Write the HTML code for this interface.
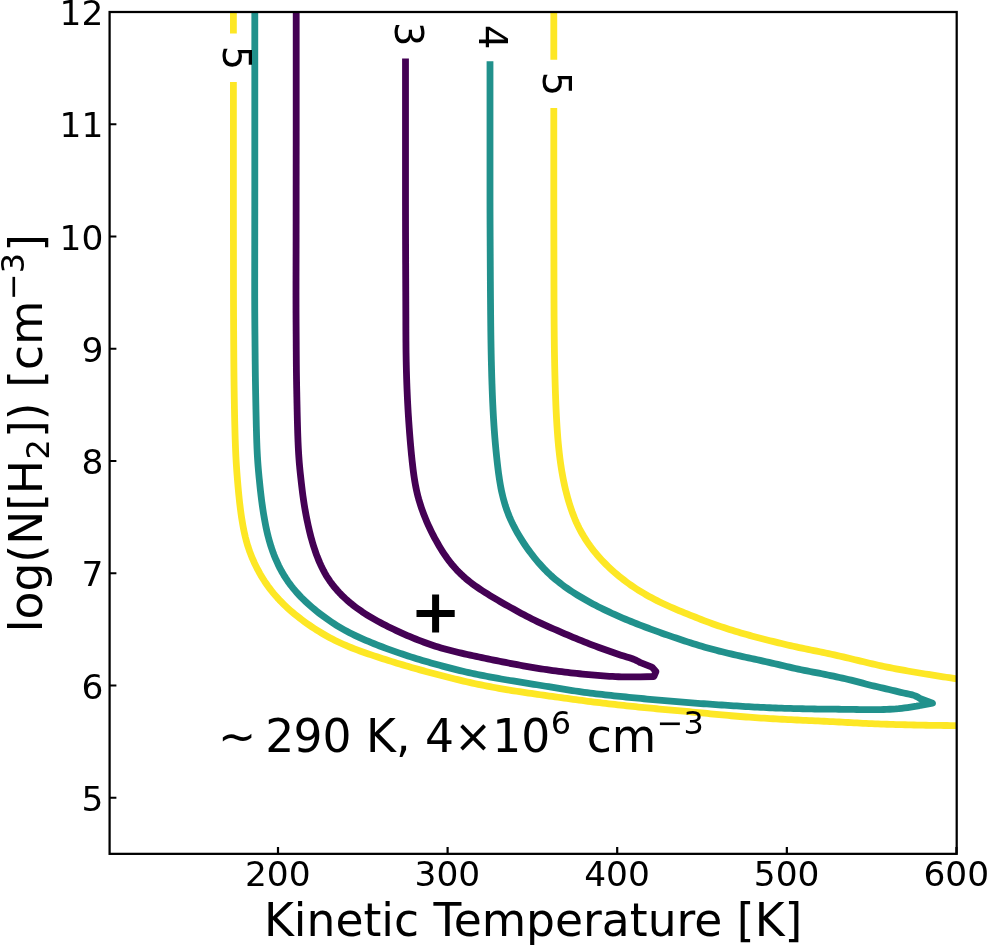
<!DOCTYPE html>
<html lang="en"><head><meta charset="utf-8"><title>Contour plot</title>
<style>html,body{margin:0;padding:0;background:#fff}svg{display:block}text{font-family:"DejaVu Sans","Liberation Sans",sans-serif;fill:#000}</style></head>
<body>
<svg width="987" height="945" viewBox="0 0 987 945">
<rect width="987" height="945" fill="#fff"/>
<defs><clipPath id="ax"><rect x="109.60" y="12.00" width="847.10" height="841.85"/></clipPath></defs>
<g clip-path="url(#ax)" fill="none" stroke-width="6.80" stroke-linejoin="round" stroke-linecap="butt">
<path stroke="#440154" d="M296.20,10.00 L296.20,13.00 L296.20,16.00 L296.20,19.00 L296.20,22.00 L296.20,25.00 L296.20,28.00 L296.20,31.00 L296.20,34.00 L296.20,37.01 L296.20,40.01 L296.20,43.01 L296.20,46.01 L296.20,49.01 L296.20,52.01 L296.20,55.01 L296.20,58.01 L296.20,61.01 L296.20,64.01 L296.20,67.01 L296.20,70.01 L296.20,73.01 L296.20,76.01 L296.20,79.01 L296.20,82.01 L296.20,85.01 L296.20,88.01 L296.20,91.02 L296.20,94.02 L296.20,97.02 L296.20,100.02 L296.20,103.02 L296.20,106.02 L296.20,109.02 L296.20,112.02 L296.20,115.02 L296.20,118.02 L296.20,121.02 L296.20,124.02 L296.20,127.02 L296.20,130.02 L296.19,133.02 L296.19,136.02 L296.19,139.02 L296.19,142.02 L296.19,145.03 L296.18,148.03 L296.18,151.03 L296.18,154.03 L296.17,157.03 L296.17,160.03 L296.17,163.03 L296.16,166.03 L296.16,169.03 L296.16,172.03 L296.16,175.03 L296.15,178.03 L296.15,181.03 L296.15,184.03 L296.14,187.03 L296.14,190.03 L296.14,193.03 L296.14,196.04 L296.14,199.04 L296.13,202.04 L296.13,205.04 L296.13,208.04 L296.13,211.04 L296.12,214.04 L296.12,217.04 L296.12,220.04 L296.12,223.04 L296.11,226.04 L296.11,229.04 L296.11,232.04 L296.10,235.04 L296.10,238.04 L296.10,241.04 L296.09,244.04 L296.09,247.04 L296.08,250.05 L296.08,253.05 L296.07,256.05 L296.06,259.05 L296.06,262.05 L296.05,265.05 L296.04,268.05 L296.04,271.05 L296.03,274.05 L296.02,277.05 L296.02,280.05 L296.01,283.05 L296.01,286.05 L296.01,289.05 L296.00,292.05 L296.00,295.05 L296.01,298.05 L296.01,301.05 L296.02,304.06 L296.02,307.06 L296.03,310.06 L296.04,313.06 L296.06,316.06 L296.07,319.06 L296.08,322.06 L296.10,325.06 L296.12,328.06 L296.13,331.06 L296.15,334.06 L296.17,337.06 L296.19,340.06 L296.21,343.06 L296.22,346.06 L296.24,349.06 L296.26,352.06 L296.28,355.06 L296.30,358.07 L296.32,361.07 L296.34,364.07 L296.37,367.07 L296.40,370.07 L296.44,373.07 L296.48,376.07 L296.52,379.07 L296.57,382.07 L296.62,385.07 L296.68,388.07 L296.74,391.07 L296.80,394.07 L296.86,397.07 L296.92,400.07 L296.98,403.07 L297.05,406.07 L297.11,409.07 L297.17,412.07 L297.24,415.07 L297.31,418.07 L297.38,421.07 L297.46,424.07 L297.54,427.07 L297.63,430.07 L297.72,433.07 L297.82,436.06 L297.93,439.06 L298.05,442.06 L298.18,445.06 L298.32,448.06 L298.48,451.05 L298.65,454.05 L298.85,457.04 L299.07,460.03 L299.30,463.02 L299.57,466.01 L299.85,469.00 L300.15,471.98 L300.46,474.97 L300.79,477.95 L301.12,480.93 L301.46,483.92 L301.81,486.90 L302.17,489.88 L302.54,492.86 L302.93,495.84 L303.35,498.81 L303.78,501.78 L304.24,504.74 L304.73,507.70 L305.24,510.66 L305.78,513.61 L306.34,516.55 L306.92,519.50 L307.53,522.43 L308.16,525.37 L308.82,528.29 L309.50,531.21 L310.22,534.13 L310.97,537.04 L311.77,539.94 L312.60,542.83 L313.47,545.72 L314.39,548.58 L315.35,551.44 L316.36,554.27 L317.42,557.09 L318.54,559.88 L319.70,562.65 L320.93,565.38 L322.22,568.08 L323.57,570.74 L325.00,573.36 L326.51,575.94 L328.10,578.47 L329.76,580.95 L331.51,583.37 L333.33,585.75 L335.22,588.07 L337.18,590.34 L339.21,592.55 L341.29,594.71 L343.43,596.82 L345.63,598.87 L347.87,600.87 L350.17,602.81 L352.50,604.71 L354.88,606.56 L357.29,608.36 L359.73,610.11 L362.20,611.82 L364.70,613.47 L367.23,615.09 L369.78,616.66 L372.37,618.18 L374.98,619.67 L377.60,621.13 L380.24,622.55 L382.90,623.95 L385.57,625.32 L388.26,626.67 L390.96,627.99 L393.67,629.29 L396.38,630.58 L399.11,631.84 L401.84,633.09 L404.58,634.31 L407.33,635.52 L410.09,636.70 L412.86,637.86 L415.64,639.00 L418.42,640.12 L421.22,641.20 L424.03,642.26 L426.84,643.29 L429.67,644.28 L432.51,645.24 L435.36,646.17 L438.22,647.06 L441.09,647.92 L443.98,648.75 L446.87,649.54 L449.77,650.31 L452.68,651.05 L455.59,651.77 L458.51,652.48 L461.43,653.16 L464.36,653.83 L467.29,654.48 L470.22,655.13 L473.15,655.76 L476.09,656.39 L479.03,657.01 L481.96,657.63 L484.90,658.24 L487.84,658.86 L490.78,659.47 L493.72,660.07 L496.66,660.67 L499.60,661.27 L502.54,661.86 L505.48,662.45 L508.43,663.02 L511.37,663.59 L514.32,664.15 L517.27,664.71 L520.22,665.25 L523.17,665.79 L526.13,666.32 L529.08,666.84 L532.04,667.34 L535.00,667.84 L537.96,668.32 L540.92,668.79 L543.89,669.24 L546.86,669.68 L549.83,670.10 L552.80,670.51 L555.77,670.91 L558.75,671.30 L561.73,671.68 L564.70,672.05 L567.68,672.41 L570.66,672.76 L573.64,673.10 L576.63,673.43 L579.61,673.75 L582.60,674.07 L585.58,674.37 L588.57,674.66 L591.56,674.93 L594.55,675.19 L597.54,675.44 L600.53,675.68 L603.52,675.90 L606.51,676.11 L609.51,676.29 L612.50,676.47 L615.50,676.63 L618.50,676.76 L621.50,676.85 L624.50,676.90 L627.50,676.92 L630.50,676.94 L633.50,676.94 L636.50,676.91 L639.50,676.85 L640.50,676.82 L653.90,676.50 L655.90,671.60 L651.90,667.10 L640.50,662.70 L637.88,661.18 L635.18,659.86 L632.41,658.75 L629.58,657.81 L626.71,656.94 L623.83,656.08 L620.96,655.18 L618.11,654.23 L615.28,653.23 L612.45,652.23 L609.62,651.24 L606.79,650.24 L603.95,649.23 L601.13,648.21 L598.30,647.19 L595.47,646.17 L592.66,645.13 L589.85,644.05 L587.06,642.94 L584.27,641.82 L581.48,640.69 L578.70,639.56 L575.91,638.43 L573.13,637.30 L570.36,636.14 L567.59,634.97 L564.83,633.80 L562.07,632.61 L559.31,631.42 L556.55,630.22 L553.81,629.01 L551.06,627.78 L548.32,626.55 L545.58,625.32 L542.85,624.08 L540.11,622.83 L537.39,621.56 L534.69,620.26 L532.00,618.93 L529.32,617.57 L526.66,616.19 L524.01,614.79 L521.36,613.38 L518.72,611.95 L516.09,610.51 L513.47,609.06 L510.85,607.60 L508.23,606.13 L505.61,604.66 L503.00,603.18 L500.39,601.69 L497.79,600.18 L495.20,598.65 L492.62,597.11 L490.05,595.55 L487.48,593.97 L484.93,592.38 L482.41,590.76 L479.91,589.10 L477.44,587.40 L474.99,585.67 L472.58,583.90 L470.19,582.09 L467.84,580.23 L465.53,578.32 L463.28,576.33 L461.08,574.29 L458.94,572.18 L456.85,570.02 L454.82,567.81 L452.85,565.55 L450.95,563.24 L449.10,560.88 L447.31,558.48 L445.58,556.03 L443.90,553.55 L442.26,551.03 L440.67,548.49 L439.12,545.91 L437.61,543.32 L436.13,540.70 L434.68,538.06 L433.28,535.39 L431.91,532.71 L430.58,530.01 L429.29,527.28 L428.04,524.54 L426.83,521.78 L425.67,519.01 L424.55,516.22 L423.46,513.42 L422.42,510.61 L421.42,507.78 L420.47,504.94 L419.58,502.08 L418.73,499.21 L417.95,496.32 L417.22,493.42 L416.55,490.49 L415.94,487.56 L415.38,484.60 L414.86,481.64 L414.39,478.67 L413.94,475.70 L413.53,472.72 L413.14,469.73 L412.78,466.74 L412.44,463.75 L412.11,460.76 L411.80,457.77 L411.49,454.78 L411.20,451.78 L410.92,448.79 L410.65,445.80 L410.39,442.81 L410.13,439.81 L409.89,436.82 L409.65,433.82 L409.42,430.83 L409.20,427.83 L408.99,424.83 L408.78,421.84 L408.58,418.84 L408.39,415.84 L408.20,412.84 L408.03,409.84 L407.86,406.85 L407.70,403.85 L407.55,400.84 L407.40,397.84 L407.27,394.84 L407.14,391.84 L407.01,388.84 L406.89,385.84 L406.78,382.84 L406.68,379.83 L406.58,376.83 L406.50,373.83 L406.41,370.82 L406.34,367.82 L406.27,364.82 L406.21,361.81 L406.15,358.81 L406.10,355.81 L406.05,352.80 L406.01,349.80 L405.98,346.79 L405.96,343.79 L405.93,340.79 L405.92,337.78 L405.90,334.78 L405.89,331.77 L405.88,328.77 L405.87,325.77 L405.86,322.76 L405.86,319.76 L405.85,316.75 L405.84,313.75 L405.83,310.75 L405.82,307.74 L405.81,304.74 L405.80,301.73 L405.79,298.73 L405.78,295.72 L405.77,292.72 L405.75,289.72 L405.74,286.71 L405.73,283.71 L405.72,280.70 L405.70,277.70 L405.69,274.70 L405.68,271.69 L405.67,268.69 L405.66,265.68 L405.64,262.68 L405.63,259.68 L405.62,256.67 L405.61,253.67 L405.60,250.66 L405.59,247.66 L405.58,244.66 L405.57,241.65 L405.57,238.65 L405.56,235.64 L405.55,232.64 L405.54,229.63 L405.54,226.63 L405.53,223.63 L405.53,220.62 L405.52,217.62 L405.52,214.61 L405.51,211.61 L405.51,208.61 L405.51,205.60 L405.50,202.60 L405.50,199.59 L405.50,196.59 L405.50,193.59 L405.50,190.58 L405.50,187.58 L405.50,184.57 L405.50,181.57 L405.50,178.56 L405.50,175.56 L405.50,172.56 L405.50,169.55 L405.50,166.55 L405.50,163.54 L405.50,160.54 L405.50,157.54 L405.50,154.53 L405.50,151.53 L405.50,148.52 L405.50,145.52 L405.50,142.52 L405.50,139.51 L405.50,136.51 L405.50,133.50 L405.50,130.50 L405.50,127.49 L405.50,124.49 L405.50,121.49 L405.50,118.48 L405.50,115.48 L405.50,112.47 L405.50,109.47 L405.50,106.47 L405.50,103.46 L405.50,100.46 L405.50,97.45 L405.50,94.45 L405.50,91.45 L405.50,88.44 L405.50,85.44 L405.50,82.43 L405.50,79.43 L405.50,76.42 L405.50,73.42 L405.50,70.42 L405.50,67.41 L405.50,64.41 L405.50,61.40 L405.50,58.40"/>
<path stroke="#21918c" d="M254.80,10.00 L254.80,13.00 L254.80,16.00 L254.80,19.01 L254.80,22.01 L254.80,25.01 L254.80,28.01 L254.80,31.01 L254.80,34.02 L254.80,37.02 L254.80,40.02 L254.80,43.02 L254.80,46.02 L254.80,49.03 L254.80,52.03 L254.80,55.03 L254.80,58.03 L254.80,61.04 L254.80,64.04 L254.80,67.04 L254.80,70.04 L254.80,73.04 L254.80,76.05 L254.80,79.05 L254.80,82.05 L254.80,85.05 L254.80,88.05 L254.80,91.06 L254.80,94.06 L254.80,97.06 L254.80,100.06 L254.80,103.06 L254.80,106.07 L254.80,109.07 L254.80,112.07 L254.80,115.07 L254.80,118.07 L254.80,121.08 L254.80,124.08 L254.80,127.08 L254.80,130.08 L254.80,133.09 L254.80,136.09 L254.80,139.09 L254.80,142.09 L254.80,145.09 L254.80,148.10 L254.80,151.10 L254.80,154.10 L254.80,157.10 L254.80,160.10 L254.80,163.11 L254.80,166.11 L254.80,169.11 L254.80,172.11 L254.80,175.11 L254.80,178.12 L254.80,181.12 L254.80,184.12 L254.80,187.12 L254.80,190.12 L254.79,193.13 L254.79,196.13 L254.79,199.13 L254.79,202.13 L254.79,205.14 L254.78,208.14 L254.78,211.14 L254.78,214.14 L254.77,217.14 L254.77,220.15 L254.77,223.15 L254.76,226.15 L254.76,229.15 L254.76,232.15 L254.76,235.16 L254.75,238.16 L254.75,241.16 L254.75,244.16 L254.74,247.16 L254.74,250.17 L254.74,253.17 L254.73,256.17 L254.73,259.17 L254.73,262.18 L254.72,265.18 L254.72,268.18 L254.71,271.18 L254.71,274.18 L254.71,277.19 L254.70,280.19 L254.70,283.19 L254.70,286.19 L254.70,289.19 L254.70,292.20 L254.70,295.20 L254.71,298.20 L254.72,301.20 L254.73,304.20 L254.74,307.21 L254.75,310.21 L254.77,313.21 L254.79,316.21 L254.81,319.21 L254.83,322.22 L254.85,325.22 L254.88,328.22 L254.90,331.22 L254.93,334.22 L254.96,337.23 L254.99,340.23 L255.01,343.23 L255.04,346.23 L255.07,349.23 L255.10,352.24 L255.13,355.24 L255.15,358.24 L255.18,361.24 L255.22,364.24 L255.25,367.25 L255.28,370.25 L255.32,373.25 L255.36,376.25 L255.41,379.25 L255.45,382.25 L255.50,385.26 L255.55,388.26 L255.61,391.26 L255.66,394.26 L255.72,397.26 L255.77,400.26 L255.83,403.27 L255.89,406.27 L255.95,409.27 L256.01,412.27 L256.08,415.27 L256.14,418.27 L256.21,421.28 L256.27,424.28 L256.34,427.28 L256.42,430.28 L256.50,433.28 L256.58,436.28 L256.68,439.28 L256.78,442.28 L256.89,445.28 L257.01,448.28 L257.15,451.28 L257.30,454.28 L257.47,457.28 L257.66,460.27 L257.87,463.27 L258.10,466.26 L258.35,469.25 L258.61,472.24 L258.88,475.23 L259.17,478.22 L259.47,481.21 L259.77,484.19 L260.08,487.18 L260.40,490.17 L260.74,493.16 L261.09,496.14 L261.45,499.12 L261.84,502.10 L262.24,505.07 L262.67,508.04 L263.12,511.01 L263.59,513.98 L264.09,516.94 L264.62,519.89 L265.17,522.85 L265.74,525.80 L266.35,528.74 L267.00,531.67 L267.69,534.60 L268.42,537.51 L269.20,540.41 L270.04,543.30 L270.92,546.17 L271.87,549.02 L272.87,551.86 L273.92,554.67 L275.04,557.46 L276.20,560.23 L277.43,562.97 L278.71,565.68 L280.05,568.36 L281.46,571.00 L282.94,573.61 L284.48,576.17 L286.10,578.69 L287.78,581.17 L289.53,583.61 L291.35,586.00 L293.22,588.34 L295.15,590.64 L297.13,592.90 L299.16,595.11 L301.24,597.29 L303.36,599.41 L305.52,601.50 L307.71,603.55 L309.95,605.56 L312.22,607.53 L314.52,609.47 L316.86,611.36 L319.22,613.23 L321.61,615.05 L324.03,616.84 L326.47,618.60 L328.94,620.32 L331.42,622.01 L333.93,623.66 L336.47,625.27 L339.03,626.84 L341.61,628.36 L344.22,629.84 L346.85,631.28 L349.51,632.67 L352.18,634.02 L354.87,635.34 L357.58,636.63 L360.31,637.89 L363.05,639.12 L365.80,640.32 L368.57,641.49 L371.34,642.64 L374.12,643.77 L376.92,644.88 L379.72,645.97 L382.53,647.03 L385.34,648.09 L388.16,649.12 L390.99,650.14 L393.81,651.14 L396.65,652.13 L399.49,653.10 L402.33,654.06 L405.18,655.01 L408.03,655.94 L410.89,656.87 L413.75,657.77 L416.61,658.67 L419.49,659.54 L422.36,660.40 L425.24,661.25 L428.13,662.08 L431.02,662.90 L433.91,663.72 L436.80,664.52 L439.70,665.31 L442.60,666.10 L445.50,666.88 L448.40,667.64 L451.30,668.40 L454.21,669.14 L457.12,669.87 L460.04,670.58 L462.96,671.28 L465.88,671.96 L468.81,672.62 L471.74,673.27 L474.68,673.89 L477.62,674.51 L480.56,675.10 L483.50,675.69 L486.45,676.26 L489.40,676.83 L492.35,677.38 L495.30,677.93 L498.26,678.46 L501.21,678.98 L504.17,679.49 L507.13,679.99 L510.09,680.48 L513.05,680.96 L516.02,681.43 L518.98,681.91 L521.95,682.37 L524.91,682.85 L527.88,683.32 L530.84,683.80 L533.81,684.28 L536.77,684.76 L539.73,685.25 L542.69,685.74 L545.66,686.23 L548.62,686.71 L551.58,687.20 L554.54,687.69 L557.50,688.18 L560.47,688.67 L563.43,689.15 L566.39,689.63 L569.36,690.10 L572.32,690.56 L575.29,691.01 L578.26,691.44 L581.23,691.87 L584.21,692.28 L587.18,692.68 L590.16,693.06 L593.14,693.44 L596.12,693.80 L599.10,694.15 L602.08,694.49 L605.06,694.82 L608.05,695.15 L611.03,695.46 L614.02,695.78 L617.01,696.09 L619.99,696.39 L622.98,696.70 L625.97,697.00 L628.96,697.29 L631.94,697.59 L634.93,697.88 L637.92,698.17 L640.91,698.46 L643.90,698.74 L646.89,699.03 L649.87,699.31 L652.86,699.58 L655.85,699.86 L658.84,700.13 L661.83,700.40 L664.82,700.67 L667.81,700.93 L670.81,701.19 L673.80,701.44 L676.79,701.69 L679.78,701.93 L682.77,702.17 L685.77,702.41 L688.76,702.64 L691.75,702.87 L694.75,703.09 L697.74,703.31 L700.73,703.53 L703.73,703.75 L706.72,703.96 L709.72,704.18 L712.71,704.39 L715.71,704.60 L718.70,704.80 L721.70,705.01 L724.69,705.21 L727.69,705.41 L730.68,705.60 L733.68,705.80 L736.68,705.98 L739.67,706.17 L742.67,706.35 L745.67,706.53 L748.66,706.70 L751.66,706.87 L754.66,707.03 L757.66,707.18 L760.65,707.33 L763.65,707.47 L766.65,707.61 L769.65,707.74 L772.65,707.86 L775.65,707.98 L778.65,708.09 L781.65,708.19 L784.65,708.29 L787.65,708.38 L790.65,708.47 L793.65,708.55 L796.66,708.63 L799.66,708.70 L802.66,708.77 L805.66,708.83 L808.66,708.88 L811.66,708.94 L814.66,708.98 L817.67,709.03 L820.67,709.07 L823.67,709.10 L826.67,709.13 L829.67,709.16 L832.68,709.19 L835.68,709.22 L838.68,709.25 L841.68,709.29 L844.68,709.33 L847.69,709.37 L850.69,709.42 L853.69,709.46 L856.69,709.51 L859.70,709.55 L862.70,709.60 L865.71,709.63 L868.71,709.65 L871.71,709.65 L874.71,709.62 L877.71,709.59 L880.71,709.55 L883.71,709.48 L886.71,709.38 L889.70,709.24 L892.71,709.13 L895.70,708.93 L898.68,708.66 L901.66,708.31 L904.64,707.92 L907.62,707.53 L910.59,707.13 L913.57,706.67 L916.54,706.15 L919.50,705.55 L920.49,705.32 L932.50,703.20 L920.50,698.80 L917.90,697.17 L915.20,695.85 L912.41,694.90 L909.53,694.20 L906.61,693.57 L903.66,692.96 L900.72,692.32 L897.80,691.64 L894.90,690.92 L891.99,690.21 L889.06,689.52 L886.14,688.84 L883.21,688.16 L880.28,687.48 L877.35,686.80 L874.41,686.14 L871.49,685.43 L868.57,684.69 L865.67,683.92 L862.77,683.15 L859.87,682.38 L856.97,681.62 L854.06,680.88 L851.15,680.16 L848.23,679.46 L845.31,678.77 L842.39,678.11 L839.46,677.45 L836.53,676.81 L833.60,676.18 L830.67,675.56 L827.73,674.96 L824.79,674.36 L821.85,673.78 L818.90,673.21 L815.96,672.64 L813.01,672.07 L810.06,671.50 L807.12,670.92 L804.17,670.33 L801.23,669.72 L798.30,669.10 L795.36,668.46 L792.43,667.81 L789.50,667.14 L786.58,666.47 L783.65,665.79 L780.73,665.11 L777.80,664.43 L774.88,663.76 L771.95,663.08 L769.03,662.40 L766.10,661.73 L763.17,661.07 L760.24,660.41 L757.31,659.76 L754.38,659.12 L751.44,658.49 L748.50,657.85 L745.57,657.22 L742.64,656.58 L739.70,655.94 L736.77,655.28 L733.85,654.61 L730.92,653.93 L728.00,653.24 L725.09,652.54 L722.17,651.82 L719.26,651.08 L716.36,650.33 L713.46,649.56 L710.56,648.78 L707.67,647.98 L704.78,647.16 L701.90,646.33 L699.02,645.47 L696.15,644.60 L693.28,643.71 L690.42,642.80 L687.56,641.88 L684.70,640.94 L681.85,639.99 L679.01,639.04 L676.16,638.08 L673.32,637.11 L670.48,636.14 L667.64,635.16 L664.80,634.17 L661.97,633.18 L659.14,632.17 L656.32,631.15 L653.50,630.12 L650.68,629.09 L647.86,628.04 L645.06,626.98 L642.25,625.90 L639.45,624.82 L636.66,623.72 L633.87,622.61 L631.08,621.49 L628.30,620.36 L625.51,619.23 L622.74,618.08 L619.97,616.90 L617.22,615.70 L614.48,614.48 L611.75,613.22 L609.04,611.95 L606.33,610.66 L603.63,609.35 L600.93,608.02 L598.25,606.67 L595.58,605.30 L592.92,603.90 L590.28,602.48 L587.65,601.03 L585.03,599.56 L582.43,598.06 L579.84,596.53 L577.27,594.98 L574.73,593.38 L572.20,591.76 L569.70,590.10 L567.23,588.40 L564.78,586.66 L562.36,584.88 L559.98,583.06 L557.63,581.20 L555.31,579.30 L553.03,577.36 L550.80,575.37 L548.61,573.32 L546.47,571.22 L544.38,569.07 L542.32,566.88 L540.30,564.66 L538.32,562.40 L536.37,560.11 L534.47,557.79 L532.60,555.44 L530.76,553.05 L528.97,550.64 L527.22,548.20 L525.50,545.72 L523.82,543.23 L522.18,540.70 L520.58,538.16 L519.01,535.59 L517.49,532.99 L516.01,530.37 L514.59,527.73 L513.22,525.06 L511.91,522.36 L510.65,519.64 L509.46,516.89 L508.34,514.12 L507.28,511.32 L506.28,508.50 L505.35,505.65 L504.49,502.78 L503.68,499.90 L502.92,497.00 L502.22,494.08 L501.57,491.15 L500.97,488.21 L500.42,485.25 L499.91,482.29 L499.43,479.32 L498.99,476.35 L498.57,473.37 L498.19,470.39 L497.82,467.40 L497.47,464.41 L497.13,461.43 L496.81,458.44 L496.49,455.44 L496.19,452.45 L495.90,449.46 L495.62,446.47 L495.35,443.48 L495.09,440.49 L494.84,437.50 L494.61,434.51 L494.38,431.51 L494.17,428.52 L493.96,425.52 L493.77,422.53 L493.58,419.53 L493.40,416.53 L493.24,413.54 L493.08,410.54 L492.93,407.54 L492.79,404.54 L492.65,401.54 L492.53,398.54 L492.41,395.54 L492.29,392.54 L492.18,389.54 L492.08,386.54 L491.97,383.54 L491.88,380.54 L491.78,377.54 L491.69,374.54 L491.61,371.53 L491.53,368.53 L491.45,365.53 L491.38,362.53 L491.30,359.53 L491.24,356.53 L491.17,353.53 L491.12,350.52 L491.06,347.52 L491.01,344.52 L490.96,341.52 L490.91,338.52 L490.87,335.51 L490.83,332.51 L490.79,329.51 L490.76,326.51 L490.72,323.51 L490.69,320.50 L490.66,317.50 L490.63,314.50 L490.60,311.50 L490.57,308.49 L490.55,305.49 L490.52,302.49 L490.50,299.49 L490.47,296.48 L490.45,293.48 L490.43,290.48 L490.41,287.48 L490.39,284.48 L490.37,281.47 L490.35,278.47 L490.33,275.47 L490.32,272.47 L490.30,269.46 L490.28,266.46 L490.27,263.46 L490.25,260.46 L490.23,257.45 L490.22,254.45 L490.20,251.45 L490.19,248.45 L490.17,245.44 L490.16,242.44 L490.14,239.44 L490.12,236.44 L490.11,233.44 L490.10,230.43 L490.08,227.43 L490.07,224.43 L490.06,221.43 L490.05,218.42 L490.04,215.42 L490.03,212.42 L490.02,209.42 L490.01,206.41 L490.01,203.41 L490.00,200.41 L490.00,197.41 L490.00,194.41 L490.00,191.40 L490.00,188.40 L490.00,185.40 L490.00,182.40 L490.00,179.39 L490.00,176.39 L490.00,173.39 L490.00,170.39 L490.00,167.38 L490.00,164.38 L490.00,161.38 L490.00,158.38 L490.00,155.37 L490.00,152.37 L490.00,149.37 L490.00,146.37 L490.00,143.36 L490.00,140.36 L490.00,137.36 L490.00,134.36 L490.00,131.36 L490.00,128.35 L490.00,125.35 L490.00,122.35 L490.00,119.35 L490.00,116.34 L490.00,113.34 L490.00,110.34 L490.00,107.34 L490.00,104.33 L490.00,101.33 L490.00,98.33 L490.00,95.33 L490.00,92.32 L490.00,89.32 L490.00,86.32 L490.00,83.32 L490.00,80.32 L490.00,77.31 L490.00,74.31 L490.00,71.31 L490.00,68.31 L490.00,65.30 L490.00,62.30 L490.00,61.30"/>
<path stroke="#fde725" d="M233.40,10.00 L233.40,33.40"/>
<path stroke="#fde725" d="M233.40,82.10 L233.40,85.10 L233.40,88.10 L233.40,91.10 L233.40,94.10 L233.40,97.10 L233.40,100.10 L233.40,103.10 L233.40,106.10 L233.40,109.10 L233.40,112.10 L233.40,115.10 L233.40,118.11 L233.40,121.11 L233.40,124.11 L233.40,127.11 L233.40,130.11 L233.40,133.11 L233.40,136.11 L233.40,139.11 L233.40,142.11 L233.40,145.11 L233.40,148.11 L233.40,151.11 L233.40,154.11 L233.40,157.11 L233.40,160.11 L233.40,163.11 L233.40,166.11 L233.40,169.11 L233.40,172.11 L233.40,175.11 L233.40,178.11 L233.40,181.11 L233.40,184.11 L233.40,187.12 L233.40,190.12 L233.40,193.12 L233.40,196.12 L233.40,199.12 L233.40,202.12 L233.40,205.12 L233.40,208.12 L233.41,211.12 L233.41,214.12 L233.41,217.12 L233.41,220.12 L233.42,223.12 L233.42,226.12 L233.42,229.12 L233.43,232.12 L233.43,235.12 L233.43,238.12 L233.44,241.12 L233.44,244.12 L233.44,247.12 L233.45,250.12 L233.45,253.12 L233.45,256.12 L233.46,259.13 L233.46,262.13 L233.46,265.13 L233.46,268.13 L233.47,271.13 L233.47,274.13 L233.47,277.13 L233.47,280.13 L233.48,283.13 L233.48,286.13 L233.48,289.13 L233.49,292.13 L233.49,295.13 L233.50,298.13 L233.51,301.13 L233.52,304.13 L233.53,307.13 L233.54,310.13 L233.55,313.13 L233.56,316.13 L233.58,319.13 L233.59,322.13 L233.61,325.13 L233.62,328.13 L233.64,331.14 L233.66,334.14 L233.68,337.14 L233.69,340.14 L233.71,343.14 L233.73,346.14 L233.75,349.14 L233.77,352.14 L233.79,355.14 L233.81,358.14 L233.83,361.14 L233.86,364.14 L233.88,367.14 L233.91,370.14 L233.94,373.14 L233.97,376.14 L234.00,379.14 L234.04,382.14 L234.08,385.14 L234.12,388.14 L234.16,391.14 L234.21,394.14 L234.25,397.14 L234.30,400.14 L234.35,403.14 L234.40,406.14 L234.46,409.14 L234.52,412.14 L234.57,415.14 L234.64,418.14 L234.70,421.14 L234.77,424.14 L234.85,427.14 L234.93,430.14 L235.01,433.14 L235.10,436.14 L235.19,439.14 L235.30,442.14 L235.40,445.14 L235.52,448.13 L235.64,451.13 L235.77,454.13 L235.92,457.13 L236.08,460.12 L236.25,463.12 L236.44,466.11 L236.64,469.10 L236.85,472.10 L237.08,475.09 L237.31,478.08 L237.56,481.07 L237.81,484.06 L238.07,487.05 L238.34,490.04 L238.62,493.03 L238.92,496.02 L239.23,499.00 L239.55,501.99 L239.90,504.97 L240.26,507.95 L240.65,510.93 L241.05,513.91 L241.49,516.88 L241.95,519.85 L242.44,522.81 L242.96,525.77 L243.51,528.72 L244.11,531.66 L244.76,534.59 L245.45,537.51 L246.21,540.41 L247.02,543.30 L247.89,546.17 L248.83,549.02 L249.82,551.84 L250.88,554.64 L252.00,557.42 L253.18,560.18 L254.41,562.91 L255.71,565.62 L257.05,568.30 L258.46,570.96 L259.91,573.59 L261.42,576.18 L262.99,578.75 L264.61,581.28 L266.29,583.77 L268.02,586.22 L269.81,588.63 L271.65,591.00 L273.54,593.33 L275.48,595.61 L277.46,597.86 L279.49,600.06 L281.57,602.21 L283.69,604.33 L285.85,606.40 L288.05,608.43 L290.29,610.42 L292.57,612.38 L294.88,614.30 L297.22,616.19 L299.59,618.04 L301.99,619.86 L304.41,621.65 L306.85,623.40 L309.32,625.13 L311.81,626.82 L314.31,628.48 L316.83,630.10 L319.38,631.69 L321.94,633.24 L324.52,634.76 L327.13,636.23 L329.76,637.67 L332.41,639.06 L335.09,640.42 L337.78,641.74 L340.49,643.01 L343.22,644.25 L345.97,645.45 L348.74,646.62 L351.52,647.75 L354.31,648.84 L357.12,649.91 L359.94,650.95 L362.77,651.96 L365.60,652.96 L368.44,653.94 L371.28,654.90 L374.12,655.86 L376.97,656.80 L379.82,657.73 L382.68,658.66 L385.54,659.57 L388.40,660.48 L391.26,661.38 L394.13,662.27 L397.00,663.15 L399.87,664.02 L402.74,664.88 L405.62,665.74 L408.50,666.58 L411.38,667.42 L414.26,668.24 L417.15,669.05 L420.04,669.85 L422.93,670.65 L425.83,671.44 L428.72,672.22 L431.62,673.00 L434.52,673.77 L437.42,674.54 L440.32,675.30 L443.23,676.05 L446.14,676.78 L449.05,677.52 L451.96,678.24 L454.87,678.96 L457.79,679.67 L460.70,680.38 L463.62,681.07 L466.54,681.75 L469.47,682.42 L472.39,683.08 L475.32,683.72 L478.26,684.34 L481.19,684.95 L484.13,685.54 L487.08,686.12 L490.02,686.68 L492.97,687.23 L495.93,687.76 L498.88,688.29 L501.84,688.80 L504.80,689.30 L507.76,689.80 L510.72,690.29 L513.68,690.77 L516.64,691.25 L519.61,691.71 L522.57,692.17 L525.54,692.61 L528.51,693.05 L531.48,693.48 L534.45,693.91 L537.42,694.33 L540.39,694.75 L543.36,695.17 L546.33,695.59 L549.30,696.01 L552.27,696.42 L555.24,696.83 L558.22,697.25 L561.19,697.66 L564.16,698.07 L567.13,698.48 L570.10,698.88 L573.08,699.29 L576.05,699.69 L579.02,700.09 L582.00,700.48 L584.97,700.87 L587.95,701.26 L590.92,701.63 L593.90,702.01 L596.88,702.37 L599.86,702.73 L602.84,703.08 L605.82,703.43 L608.80,703.78 L611.78,704.12 L614.76,704.46 L617.74,704.80 L620.73,705.14 L623.71,705.47 L626.69,705.80 L629.67,706.12 L632.66,706.43 L635.64,706.74 L638.63,707.05 L641.61,707.35 L644.60,707.64 L647.58,707.92 L650.57,708.20 L653.56,708.48 L656.55,708.75 L659.53,709.02 L662.52,709.29 L665.51,709.55 L668.50,709.82 L671.49,710.09 L674.48,710.36 L677.47,710.63 L680.45,710.90 L683.44,711.17 L686.43,711.45 L689.42,711.73 L692.40,712.02 L695.39,712.30 L698.38,712.59 L701.36,712.89 L704.35,713.18 L707.33,713.47 L710.32,713.77 L713.31,714.06 L716.29,714.35 L719.28,714.64 L722.27,714.92 L725.26,715.20 L728.24,715.48 L731.23,715.75 L734.22,716.01 L737.21,716.26 L740.20,716.51 L743.19,716.75 L746.18,716.99 L749.17,717.21 L752.16,717.43 L755.16,717.64 L758.15,717.84 L761.14,718.04 L764.14,718.23 L767.13,718.41 L770.13,718.58 L773.12,718.76 L776.12,718.92 L779.12,719.09 L782.11,719.25 L785.11,719.41 L788.11,719.57 L791.10,719.72 L794.10,719.87 L797.10,720.02 L800.09,720.16 L803.09,720.30 L806.09,720.43 L809.09,720.56 L812.08,720.69 L815.08,720.82 L818.08,720.96 L821.08,721.09 L824.07,721.24 L827.07,721.38 L830.07,721.53 L833.06,721.69 L836.06,721.84 L839.05,722.00 L842.05,722.16 L845.05,722.32 L848.04,722.49 L851.04,722.65 L854.03,722.81 L857.03,722.97 L860.03,723.12 L863.02,723.28 L866.02,723.42 L869.01,723.57 L872.01,723.70 L875.01,723.83 L878.01,723.95 L881.00,724.07 L884.00,724.17 L887.00,724.27 L890.00,724.36 L893.00,724.44 L896.00,724.53 L899.00,724.61 L902.00,724.68 L905.00,724.76 L908.00,724.84 L911.00,724.91 L914.00,724.98 L917.00,725.05 L920.00,725.11 L923.00,725.17 L926.00,725.23 L929.00,725.29 L932.00,725.34 L935.00,725.38 L938.00,725.42 L941.00,725.46 L944.00,725.49 L947.00,725.52 L950.00,725.55 L953.00,725.58 L956.00,725.61 L959.00,725.63 L962.00,725.65 L965.00,725.66 L966.00,725.66"/>
<path stroke="#fde725" d="M553.80,10.00 L553.80,59.65"/>
<path stroke="#fde725" d="M553.80,108.10 L553.80,111.10 L553.80,114.10 L553.80,117.10 L553.80,120.11 L553.80,123.11 L553.80,126.11 L553.80,129.11 L553.80,132.11 L553.80,135.11 L553.80,138.12 L553.80,141.12 L553.80,144.12 L553.80,147.12 L553.80,150.12 L553.80,153.12 L553.80,156.13 L553.80,159.13 L553.80,162.13 L553.80,165.13 L553.80,168.13 L553.80,171.13 L553.80,174.14 L553.80,177.14 L553.80,180.14 L553.80,183.14 L553.80,186.14 L553.80,189.14 L553.80,192.15 L553.80,195.15 L553.80,198.15 L553.80,201.15 L553.81,204.15 L553.81,207.15 L553.81,210.16 L553.82,213.16 L553.82,216.16 L553.83,219.16 L553.83,222.16 L553.84,225.16 L553.85,228.17 L553.85,231.17 L553.86,234.17 L553.87,237.17 L553.87,240.17 L553.88,243.17 L553.89,246.18 L553.89,249.18 L553.90,252.18 L553.91,255.18 L553.91,258.18 L553.92,261.18 L553.92,264.18 L553.93,267.19 L553.93,270.19 L553.94,273.19 L553.94,276.19 L553.95,279.19 L553.95,282.19 L553.96,285.20 L553.97,288.20 L553.97,291.20 L553.98,294.20 L553.99,297.20 L554.00,300.20 L554.01,303.21 L554.03,306.21 L554.04,309.21 L554.06,312.21 L554.07,315.21 L554.09,318.21 L554.11,321.22 L554.13,324.22 L554.16,327.22 L554.18,330.22 L554.21,333.22 L554.24,336.22 L554.27,339.23 L554.30,342.23 L554.34,345.23 L554.38,348.23 L554.42,351.23 L554.47,354.23 L554.52,357.23 L554.58,360.23 L554.64,363.24 L554.70,366.24 L554.77,369.24 L554.84,372.24 L554.91,375.24 L554.99,378.24 L555.07,381.24 L555.16,384.24 L555.25,387.24 L555.34,390.24 L555.44,393.24 L555.55,396.24 L555.66,399.24 L555.77,402.24 L555.89,405.24 L556.02,408.24 L556.16,411.24 L556.31,414.24 L556.46,417.23 L556.63,420.23 L556.81,423.23 L556.99,426.22 L557.19,429.22 L557.40,432.22 L557.62,435.21 L557.85,438.20 L558.10,441.20 L558.37,444.19 L558.65,447.18 L558.96,450.16 L559.29,453.15 L559.64,456.13 L560.01,459.11 L560.41,462.08 L560.83,465.05 L561.28,468.02 L561.76,470.99 L562.27,473.94 L562.81,476.89 L563.39,479.84 L564.00,482.78 L564.64,485.71 L565.31,488.64 L566.02,491.56 L566.77,494.47 L567.55,497.37 L568.37,500.27 L569.23,503.15 L570.13,506.02 L571.08,508.87 L572.07,511.71 L573.12,514.52 L574.21,517.32 L575.36,520.09 L576.57,522.83 L577.84,525.54 L579.17,528.22 L580.57,530.86 L582.03,533.48 L583.54,536.07 L585.11,538.62 L586.73,541.14 L588.41,543.62 L590.14,546.07 L591.94,548.48 L593.78,550.85 L595.68,553.18 L597.63,555.47 L599.62,557.73 L601.65,559.94 L603.73,562.12 L605.84,564.25 L607.98,566.35 L610.17,568.41 L612.38,570.44 L614.63,572.43 L616.91,574.39 L619.21,576.31 L621.55,578.19 L623.91,580.04 L626.31,581.86 L628.73,583.63 L631.18,585.37 L633.66,587.07 L636.17,588.72 L638.70,590.34 L641.25,591.91 L643.83,593.45 L646.43,594.96 L649.04,596.43 L651.67,597.86 L654.32,599.26 L657.00,600.62 L659.68,601.95 L662.39,603.25 L665.11,604.52 L667.84,605.77 L670.58,606.99 L673.33,608.19 L676.10,609.36 L678.87,610.52 L681.65,611.67 L684.43,612.81 L687.21,613.94 L690.00,615.06 L692.79,616.17 L695.58,617.28 L698.37,618.38 L701.17,619.47 L703.97,620.55 L706.78,621.61 L709.59,622.66 L712.41,623.68 L715.24,624.69 L718.07,625.68 L720.91,626.65 L723.76,627.60 L726.61,628.53 L729.47,629.44 L732.33,630.33 L735.20,631.21 L738.08,632.07 L740.96,632.92 L743.84,633.75 L746.73,634.56 L749.63,635.37 L752.52,636.16 L755.42,636.94 L758.32,637.71 L761.23,638.47 L764.13,639.22 L767.04,639.96 L769.95,640.69 L772.87,641.42 L775.78,642.15 L778.69,642.86 L781.61,643.57 L784.53,644.26 L787.45,644.95 L790.38,645.62 L793.31,646.28 L796.24,646.93 L799.17,647.56 L802.11,648.18 L805.05,648.79 L807.99,649.39 L810.93,649.99 L813.88,650.58 L816.82,651.17 L819.76,651.77 L822.70,652.38 L825.64,653.00 L828.57,653.62 L831.50,654.26 L834.43,654.90 L837.36,655.56 L840.29,656.22 L843.21,656.90 L846.13,657.58 L849.05,658.27 L851.97,658.97 L854.89,659.68 L857.80,660.39 L860.72,661.10 L863.64,661.80 L866.56,662.51 L869.48,663.20 L872.40,663.89 L875.32,664.56 L878.25,665.22 L881.18,665.86 L884.12,666.48 L887.06,667.08 L890.00,667.67 L892.95,668.25 L895.90,668.81 L898.85,669.37 L901.80,669.92 L904.75,670.46 L907.71,670.99 L910.66,671.51 L913.62,672.02 L916.58,672.52 L919.54,673.02 L922.50,673.51 L925.46,673.99 L928.43,674.47 L931.39,674.94 L934.36,675.41 L937.32,675.89 L940.29,676.34 L943.26,676.80 L946.22,677.25 L949.19,677.70 L952.16,678.16 L955.12,678.62 L958.09,679.07 L961.06,679.53 L964.02,679.99 L966.00,680.29"/>
</g>
<path d="M416.50,613.50 H454.70 M435.60,594.40 V632.60" stroke="#000" stroke-width="7.00" fill="none"/>
<path d="M278.00,853.85 V847.05 M447.60,853.85 V847.05 M617.20,853.85 V847.05 M786.85,853.85 V847.05 M956.45,853.85 V847.05 M109.60,797.73 H116.40 M109.60,685.48 H116.40 M109.60,573.23 H116.40 M109.60,460.99 H116.40 M109.60,348.74 H116.40 M109.60,236.49 H116.40 M109.60,124.25 H116.40 M109.60,12.00 H116.40" stroke="#000" stroke-width="2.20" fill="none"/>
<rect x="109.60" y="12.00" width="847.10" height="841.85" fill="none" stroke="#000" stroke-width="2.25"/>
<g font-size="34.40">
<text x="277.80" y="886.40" text-anchor="middle">200</text>
<text x="447.40" y="886.40" text-anchor="middle">300</text>
<text x="617.00" y="886.40" text-anchor="middle">400</text>
<text x="786.65" y="886.40" text-anchor="middle">500</text>
<text x="956.25" y="886.40" text-anchor="middle">600</text>
<text x="103.30" y="810.93" text-anchor="end">5</text>
<text x="103.30" y="698.68" text-anchor="end">6</text>
<text x="103.30" y="586.43" text-anchor="end">7</text>
<text x="103.30" y="474.19" text-anchor="end">8</text>
<text x="103.30" y="361.94" text-anchor="end">9</text>
<text x="103.30" y="249.69" text-anchor="end">10</text>
<text x="103.30" y="137.45" text-anchor="end">11</text>
<text x="103.30" y="25.20" text-anchor="end">12</text>
</g>
<g font-size="38.20">
<text transform="translate(222.85,45.79) rotate(90)">5</text>
<text transform="translate(394.99,21.97) rotate(90)">3</text>
<text transform="translate(479.43,24.99) rotate(90)">4</text>
<text transform="translate(543.05,71.69) rotate(90)">5</text>
</g>
<g transform="translate(41.88,627.90) rotate(-90) translate(-4.30,0)"><text xml:space="preserve" font-size="45.60" y="-0.00" x="0.00 12.68 40.59 69.55 87.35 121.48 137.91">log(N[H</text><text xml:space="preserve" font-size="31.92" y="7.55" x="172.65">2</text><text xml:space="preserve" font-size="45.60" y="-0.00" x="194.23 212.03 229.83 244.33 262.13 287.22">]) [cm</text><text xml:space="preserve" font-size="31.92" y="-17.61" x="332.10 358.86">−3</text><text xml:space="preserve" font-size="45.60" y="-0.00" x="380.44">]</text></g>
<g transform="translate(209.18,751.80)"><text xml:space="preserve" font-size="45.60" y="-0.00" x="8.89 56.01 84.28 113.31 142.34 156.84 186.76 201.27 215.77 244.80 283.03 312.05">∼290 K, 4×10</text><text xml:space="preserve" font-size="31.92" y="-17.61" x="341.52">6</text><text xml:space="preserve" font-size="45.60" y="-0.00" x="363.10 377.60 402.69"> cm</text><text xml:space="preserve" font-size="31.92" y="-17.61" x="447.57 474.33">−3</text></g>
<text x="533.15" y="935.50" font-size="45.60" text-anchor="middle">Kinetic Temperature [K]</text>
</svg>
</body></html>
